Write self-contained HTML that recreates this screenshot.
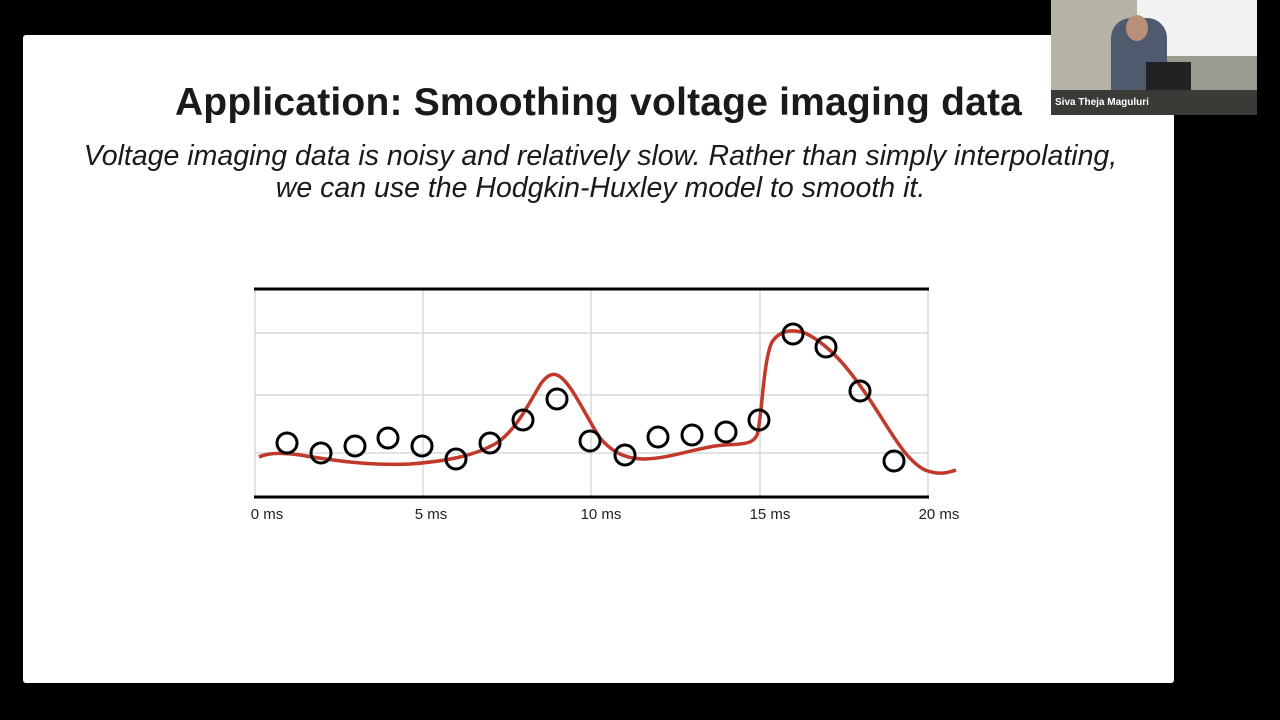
<!DOCTYPE html>
<html><head><style>
body{margin:0;width:1280px;height:720px;background:#000;position:relative;overflow:hidden;font-family:"Liberation Sans",Arial,sans-serif}
.slide{position:absolute;left:23px;top:35px;width:1151px;height:648px;background:#fff;border-radius:3px}
.t{position:absolute;left:0;width:1197px;text-align:center;color:#1a1a1a}
.cam{position:absolute;left:1051px;top:0;width:206px;height:115px;background:#9a9a8e;overflow:hidden}
</style></head><body>
<div class="slide"></div>
<div class="t" style="top:81px;font-size:39px;font-weight:bold;letter-spacing:0.2px">Application: Smoothing voltage imaging data</div>
<div class="t" style="top:140px;font-size:28.5px;font-style:italic;line-height:32px;left:2px">Voltage imaging data is noisy and relatively slow. Rather than simply interpolating,<br>we can use the Hodgkin-Huxley model to smooth it.</div>
<svg width="1280" height="720" style="position:absolute;left:0;top:0">
<g stroke="#d8d8d8" stroke-width="1.5">
<line x1="423" y1="289" x2="423" y2="497"/><line x1="591" y1="289" x2="591" y2="497"/><line x1="760" y1="289" x2="760" y2="497"/>
<line x1="255" y1="333" x2="928" y2="333"/><line x1="255" y1="395" x2="928" y2="395"/><line x1="255" y1="453" x2="928" y2="453"/>
<line x1="255" y1="289" x2="255" y2="497"/><line x1="928" y1="289" x2="928" y2="497"/>
</g>
<line x1="254" y1="289" x2="929" y2="289" stroke="#000" stroke-width="3"/>
<line x1="254" y1="497" x2="929" y2="497" stroke="#000" stroke-width="3"/>
<path d="M259,457 C270,452 285,453 300,455 C330,460 370,466 410,464 C450,461 475,455 495,444 C515,432 528,405 540,385 C546,376 552,373 557,375 C570,380 585,415 600,438 C612,452 625,459 645,459 C670,458 690,450 715,446 C735,443 752,447 757,435 C762,420 763,360 772,342 C780,330 792,329 805,333 C830,345 850,370 870,400 C890,430 905,460 925,470 C940,476 950,472 956,470" fill="none" stroke="#c0392b" stroke-width="3.5"/>
<g fill="none" stroke="#000" stroke-width="3">
<circle cx="287" cy="443" r="10"/><circle cx="321" cy="453" r="10"/><circle cx="355" cy="446" r="10"/><circle cx="388" cy="438" r="10"/><circle cx="422" cy="446" r="10"/><circle cx="456" cy="459" r="10"/><circle cx="490" cy="443" r="10"/><circle cx="523" cy="420" r="10"/><circle cx="557" cy="399" r="10"/><circle cx="590" cy="441" r="10"/><circle cx="625" cy="455" r="10"/><circle cx="658" cy="437" r="10"/><circle cx="692" cy="435" r="10"/><circle cx="726" cy="432" r="10"/><circle cx="759" cy="420" r="10"/><circle cx="793" cy="334" r="10"/><circle cx="826" cy="347" r="10"/><circle cx="860" cy="391" r="10"/><circle cx="894" cy="461" r="10"/>
</g>
<g font-size="15" fill="#222" font-family="Liberation Sans,sans-serif" text-anchor="middle">
<text x="267" y="519">0 ms</text><text x="431" y="519">5 ms</text><text x="601" y="519">10 ms</text><text x="770" y="519">15 ms</text><text x="939" y="519">20 ms</text>
</g>
</svg>
<div class="cam">
<div style="position:absolute;left:86px;top:0;width:120px;height:56px;background:#f2f2f2"></div>
<div style="position:absolute;left:0;top:0;width:86px;height:115px;background:#b5b3a6"></div>
<div style="position:absolute;left:60px;top:18px;width:56px;height:97px;background:#4f5a6e;border-radius:20px 20px 0 0"></div>
<div style="position:absolute;left:75px;top:15px;width:22px;height:26px;background:#b89078;border-radius:50%"></div>
<div style="position:absolute;left:95px;top:62px;width:45px;height:30px;background:#222"></div>
<div style="position:absolute;left:0;top:90px;width:206px;height:25px;background:#3a3a36"></div>
<div style="position:absolute;left:4px;top:97px;color:#fff;font-size:10px;font-weight:bold">Siva Theja Maguluri</div>
</div>
</body></html>
